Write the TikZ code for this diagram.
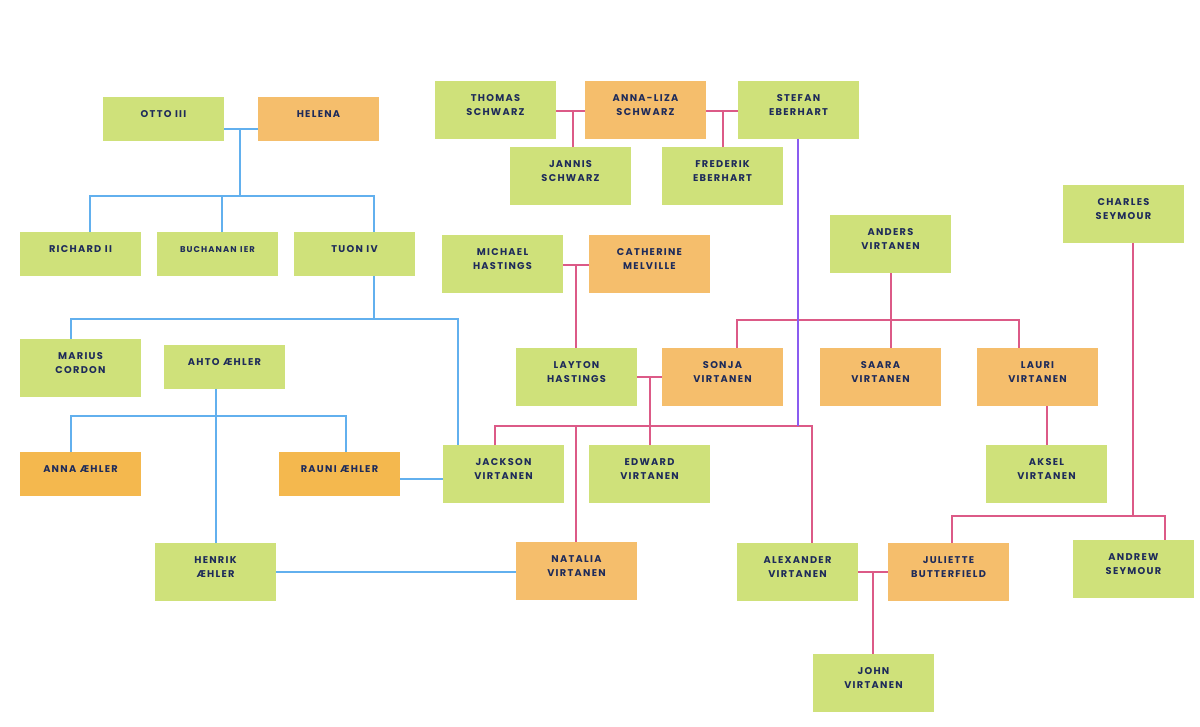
\documentclass[tikz,border=0pt]{standalone}
\usepackage{fontspec}
\newfontfamily\lblfont{Poppins}[LetterSpace=13]
\newcommand\wsp{\hspace{3.5pt}}
\definecolor{gbox}{HTML}{CFE17A}
\definecolor{obox}{HTML}{F5BE6C}
\definecolor{dbox}{HTML}{F4B84E}
\definecolor{navy}{HTML}{1E2B5A}
\definecolor{bl}{HTML}{62B0EE}
\definecolor{pk}{HTML}{DC5A87}
\definecolor{pu}{HTML}{8A5CF0}
\begin{document}
\begin{tikzpicture}[x=1pt,y=-1pt,
  person/.style={anchor=north west, inner sep=0pt, outer sep=0pt, text width=121pt, align=center,
    text height=20.5pt, font=\lblfont\bfseries\fontsize{9.8}{14}\selectfont, text=navy},
  one/.style={person, text depth=23.5pt},
  two/.style={person, text depth=37.5pt},
  G/.style={fill=gbox}, O/.style={fill=obox}, D/.style={fill=dbox},
  bline/.style={draw=bl, line width=2.3pt},
  pline/.style={draw=pk, line width=2.3pt},
  uline/.style={draw=pu, line width=2.3pt}]
\useasboundingbox (0,0) rectangle (1200,726);
% nodes
\node[one,G] (otto) at (103,97) {OTTO\wsp III};
\node[one,O] (helena) at (258,97) {HELENA};
\node[one,G] (richard) at (20,232) {RICHARD\wsp II};
\node[one,G,font=\lblfont\bfseries\fontsize{8.4}{14}\selectfont] (buchanan) at (157,232) {BUCHANAN\wsp IER};
\node[one,G] (tuon) at (294,232) {TUON\wsp IV};
\node[two,G] (marius) at (20,339) {MARIUS\\CORDON};
\node[one,G] (ahto) at (164,345) {AHTO\wsp ÆHLER};
\node[one,D] (anna) at (20,452) {ANNA\wsp ÆHLER};
\node[one,D] (rauni) at (279,452) {RAUNI\wsp ÆHLER};
\node[two,G] (henrik) at (155,543) {HENRIK\\ÆHLER};
\node[two,G] (thomas) at (435,81) {THOMAS\\SCHWARZ};
\node[two,O] (annaliza) at (585,81) {ANNA-LIZA\\SCHWARZ};
\node[two,G] (stefan) at (738,81) {STEFAN\\EBERHART};
\node[two,G] (jannis) at (510,147) {JANNIS\\SCHWARZ};
\node[two,G] (frederik) at (662,147) {FREDERIK\\EBERHART};
\node[two,G] (michael) at (442,235) {MICHAEL\\HASTINGS};
\node[two,O] (catherine) at (589,235) {CATHERINE\\MELVILLE};
\node[two,G] (layton) at (516,348) {LAYTON\\HASTINGS};
\node[two,O] (sonja) at (662,348) {SONJA\\VIRTANEN};
\node[two,G] (jackson) at (443,445) {JACKSON\\VIRTANEN};
\node[two,G] (edward) at (589,445) {EDWARD\\VIRTANEN};
\node[two,O] (natalia) at (516,542) {NATALIA\\VIRTANEN};
\node[two,G] (anders) at (830,215) {ANDERS\\VIRTANEN};
\node[two,O] (saara) at (820,348) {SAARA\\VIRTANEN};
\node[two,O] (lauri) at (977,348) {LAURI\\VIRTANEN};
\node[two,G] (aksel) at (986,445) {AKSEL\\VIRTANEN};
\node[two,G] (charles) at (1063,185) {CHARLES\\SEYMOUR};
\node[two,G] (andrew) at (1073,540) {ANDREW\\SEYMOUR};
\node[two,O] (juliette) at (888,543) {JULIETTE\\BUTTERFIELD};
\node[two,G] (alexander) at (737,543) {ALEXANDER\\VIRTANEN};
\node[two,G] (john) at (813,654) {JOHN\\VIRTANEN};
% junction coordinates
\coordinate (j1) at (240,129);
\coordinate (b1L) at (90,196); \coordinate (b1M) at (222,196); \coordinate (b1R) at (374,196);
\coordinate (b2L) at (71,319); \coordinate (b2M) at (374,319); \coordinate (b2R) at (458,319);
\coordinate (b3L) at (71,416); \coordinate (b3M) at (216,416); \coordinate (b3R) at (346,416);
\coordinate (y479) at (0,479); \coordinate (y572) at (0,572);
\coordinate (j2) at (573,111); \coordinate (j3) at (723,111);
\coordinate (j4) at (576,265); \coordinate (j5) at (650,377);
\coordinate (b4L) at (495,426); \coordinate (b4M) at (576,426); \coordinate (b4P) at (798,426); \coordinate (b4R) at (812,426);
\coordinate (b5L) at (737,320); \coordinate (b5M) at (891,320); \coordinate (b5R) at (1019,320);
\coordinate (j6) at (1047,420);
\coordinate (b6L) at (952,516); \coordinate (b6M) at (1133,516); \coordinate (b6R) at (1165,516);
\coordinate (j7) at (873,572);
% blue connectors
\draw[bline] (otto.east |- j1) -- (helena.west |- j1);
\draw[bline] (j1) -- (j1 |- b1M);
\draw[bline] (b1L |- richard.north) -- (b1L) -- (b1R) -- (b1R |- tuon.north);
\draw[bline] (b1M) -- (b1M |- buchanan.north);
\draw[bline] (b2M |- tuon.south) -- (b2M);
\draw[bline] (b2L |- marius.north) -- (b2L) -- (b2R) -- (b2R |- jackson.north);
\draw[bline] (b3M |- ahto.south) -- (b3M |- henrik.north);
\draw[bline] (b3L |- anna.north) -- (b3L) -- (b3R) -- (b3R |- rauni.north);
\draw[bline] (rauni.east |- y479) -- (jackson.west |- y479);
\draw[bline] (henrik.east |- y572) -- (natalia.west |- y572);
% pink connectors
\draw[pline] (thomas.east |- j2) -- (annaliza.west |- j2);
\draw[pline] (j2) -- (j2 |- jannis.north);
\draw[pline] (annaliza.east |- j3) -- (stefan.west |- j3);
\draw[pline] (j3) -- (j3 |- frederik.north);
\draw[pline] (michael.east |- j4) -- (catherine.west |- j4);
\draw[pline] (j4) -- (j4 |- layton.north);
\draw[pline] (layton.east |- j5) -- (sonja.west |- j5);
\draw[pline] (j5) -- (j5 |- edward.north);
\draw[pline] (b4L |- jackson.north) -- (b4L) -- (b4R) -- (b4R |- alexander.north);
\draw[pline] (b4M) -- (b4M |- natalia.north);
\draw[pline] (b5M |- anders.south) -- (b5M |- saara.north);
\draw[pline] (b5L |- sonja.north) -- (b5L) -- (b5R) -- (b5R |- lauri.north);
\draw[pline] (j6 |- lauri.south) -- (j6 |- aksel.north);
\draw[pline] (b6M |- charles.south) -- (b6M);
\draw[pline] (b6L |- juliette.north) -- (b6L) -- (b6R) -- (b6R |- andrew.north);
\draw[pline] (alexander.east |- j7) -- (juliette.west |- j7);
\draw[pline] (j7) -- (j7 |- john.north);
% purple connector
\draw[uline] (b4P |- stefan.south) -- (b4P);
\end{tikzpicture}
\end{document}
